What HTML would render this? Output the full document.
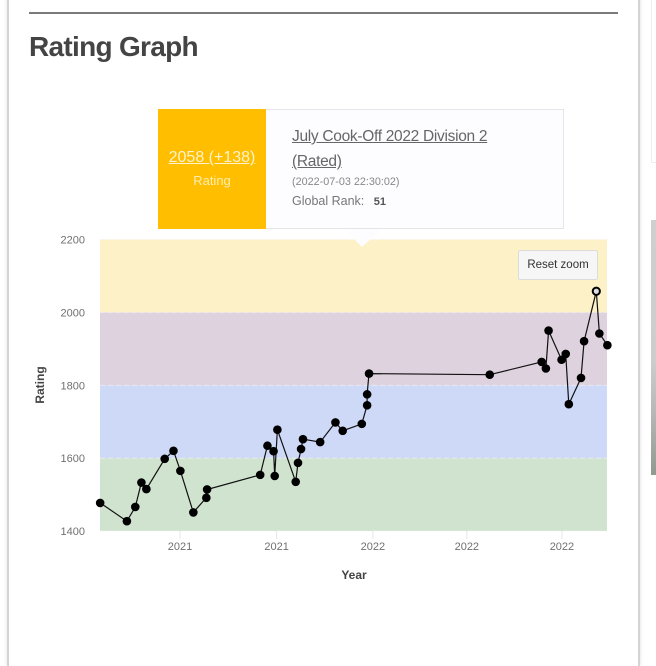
<!DOCTYPE html>
<html lang="en">
<head>
<meta charset="utf-8">
<title>Rating Graph</title>
<style>
html,body{margin:0;padding:0;background:#fff;}
body{width:656px;height:656px;position:relative;overflow:hidden;font-family:"Liberation Sans",sans-serif;filter:blur(.35px);}
.abs{position:absolute;}
#card{left:7px;top:-4px;width:633px;height:670px;background:#fff;border-left:2px solid #d4d4d4;border-right:2px solid #d4d4d4;box-sizing:border-box;box-shadow:0 0 4px rgba(0,0,0,.12);}
#rule{left:29px;top:12px;width:589px;height:2px;background:#7b7b7b;}
#title{left:29px;top:29px;font-size:28px;line-height:36px;font-weight:bold;color:#444;white-space:nowrap;letter-spacing:-.7px;}
#side-card{left:651px;top:-2px;width:8px;height:165px;border:1px solid #eee;box-sizing:border-box;background:#fff;}
#side-image{left:651px;top:220px;width:5px;height:255px;background:linear-gradient(#cfcfcf 0%,#cdcdcd 55%,#b8b8b8 75%,#8f9a8f 100%);}
#chart{left:0;top:0;}
#tooltip{left:158px;top:109px;width:406px;height:120px;background:#fdfcfe;border:1px solid #e6e6e6;box-sizing:border-box;}
#tip-side{left:158px;top:109px;width:108px;height:120px;background:#ffbe00;color:#fff;text-align:center;}
#tip-score{left:0;top:39px;width:108px;font-size:16px;line-height:20px;text-decoration:underline;color:#fff3cc;}
#tip-label{left:0;top:64px;width:108px;font-size:13px;line-height:16px;color:#ffedb0;}
#tip-name{left:292px;top:124px;width:230px;font-size:15.5px;line-height:25px;color:#666;text-decoration:underline;letter-spacing:-.3px;}
#tip-date{left:292px;top:175px;font-size:10.8px;line-height:14px;color:#888;white-space:nowrap;}
#tip-rank{left:292px;top:194px;font-size:12.5px;line-height:15px;color:#777;white-space:nowrap;}
#tip-rank b{font-size:11px;margin-left:6px;color:#555;}
#reset{left:518px;top:250px;width:80px;height:30px;background:#f6f6f6;border:1px solid #dcdcdc;border-radius:2px;box-sizing:border-box;font-size:11.5px;line-height:28px;text-align:center;color:#333;}
</style>
</head>
<body>
<div id="card" class="abs"></div>
<div id="side-card" class="abs"></div>
<div id="side-image" class="abs"></div>
<div id="rule" class="abs"></div>
<div id="title" class="abs">Rating Graph</div>

<svg id="chart" class="abs" width="656" height="656" viewBox="0 0 656 656" xmlns="http://www.w3.org/2000/svg"></svg>

<div id="tooltip" class="abs"></div>
<div id="tip-side" class="abs">
  <div id="tip-score" class="abs">2058 (+138)</div>
  <div id="tip-label" class="abs">Rating</div>
</div>
<div id="tip-name" class="abs">July Cook-Off 2022 Division 2 (Rated)</div>
<div id="tip-date" class="abs">(2022-07-03 22:30:02)</div>
<div id="tip-rank" class="abs">Global Rank: <b>51</b></div>
<div id="reset" class="abs">Reset zoom</div>

<script>
const years = [2021.206,2021.276,2021.298,2021.314,2021.327,2021.375,2021.398,2021.416,2021.450,2021.484,2021.486,2021.625,2021.644,2021.660,2021.663,2021.670,2021.718,2021.724,2021.732,2021.737,2021.782,2021.822,2021.841,2021.891,2021.905,2021.905,2021.910,2022.226,2022.362,2022.373,2022.380,2022.414,2022.425,2022.433,2022.465,2022.473,2022.505,2022.513,2022.534];
const ratings = [1477,1427,1466,1533,1515,1598,1620,1565,1451,1491,1514,1554,1634,1619,1551,1678,1535,1587,1625,1652,1644,1698,1675,1694,1745,1775,1832,1829,1864,1846,1950,1870,1886,1748,1820,1921,2058,1942,1910];
const highlightIndex = 36;
const yTicks = [1400,1600,1800,2000,2200];
const xTickValues = [2021.415,2021.668,2021.920,2022.166,2022.415];
const xTickLabels = ["2021","2021","2022","2022","2022"];
const bandEdges = [1400,1600,1800,2000,2200];
const bandColors = ["#d0e3cf","#cdd9f6","#ded2df","#fdf1c7"];

const svgNS = "http://www.w3.org/2000/svg";
const svg = document.getElementById("chart");
const plot = {left:100,right:607,top:239.5,bottom:531};
const xDomain = [2021.2056,2022.533];
const yDomain = [1400,2200];
function xScale(v){return plot.left+(v-xDomain[0])/(xDomain[1]-xDomain[0])*(plot.right-plot.left);}
function yScale(v){return plot.bottom-(v-yDomain[0])/(yDomain[1]-yDomain[0])*(plot.bottom-plot.top);}
function make(tag,attrs,parent){
  const el=document.createElementNS(svgNS,tag);
  for(const k in attrs){el.setAttribute(k,attrs[k]);}
  (parent||svg).appendChild(el);
  return el;
}

bandColors.forEach(function(color,i){
  const band=make("rect",{x:plot.left,y:yScale(bandEdges[i+1]),width:plot.right-plot.left,height:yScale(bandEdges[i])-yScale(bandEdges[i+1]),fill:color});
  
  
});

yTicks.forEach(function(t){
  const grid=make("line",{x1:plot.left,x2:plot.right,y1:yScale(t),y2:yScale(t),stroke:"#f4f4f4","stroke-opacity":0.6,"stroke-width":1,"stroke-dasharray":"5 3"});
  
  
  const label=make("text",{x:85,y:yScale(t)+4,"text-anchor":"end","font-size":11,fill:"#707070","font-family":"Liberation Sans, sans-serif"});
  label.textContent=String(t);
  
  
});

xTickValues.forEach(function(t,i){
  const mark=make("line",{x1:xScale(t),x2:xScale(t),y1:plot.bottom,y2:plot.bottom+8,stroke:"#e6e6e6","stroke-width":1});
  
  
  const label=make("text",{x:xScale(t),y:550,"text-anchor":"middle","font-size":11,fill:"#707070","font-family":"Liberation Sans, sans-serif"});
  label.textContent=xTickLabels[i];
  
  
});

const yTitle=make("text",{transform:"translate(44 385) rotate(-90)","text-anchor":"middle","font-size":12,"font-weight":"bold",fill:"#444","font-family":"Liberation Sans, sans-serif"});
yTitle.textContent="Rating";



const xTitle=make("text",{x:354,y:579,"text-anchor":"middle","font-size":12,"font-weight":"bold",fill:"#444","font-family":"Liberation Sans, sans-serif"});
xTitle.textContent="Year";



const pointsAttr=years.map(function(y,i){return xScale(y).toFixed(1)+","+yScale(ratings[i]).toFixed(1);}).join(" ");
const line=make("polyline",{points:pointsAttr,fill:"none",stroke:"#111","stroke-width":1.2});



years.forEach(function(y,i){
  const hot=i===highlightIndex;
  const dot=make("circle",{cx:xScale(y),cy:yScale(ratings[i]),r:hot?3.6:4.3,fill:hot?"#ddd":"#000",stroke:hot?"#000":"none","stroke-width":hot?2:0});
  
  
});

const arrow=make("polygon",{points:"343,228 383,228 362,247",fill:"#fdfcfe"});


</script>
</body>
</html>
